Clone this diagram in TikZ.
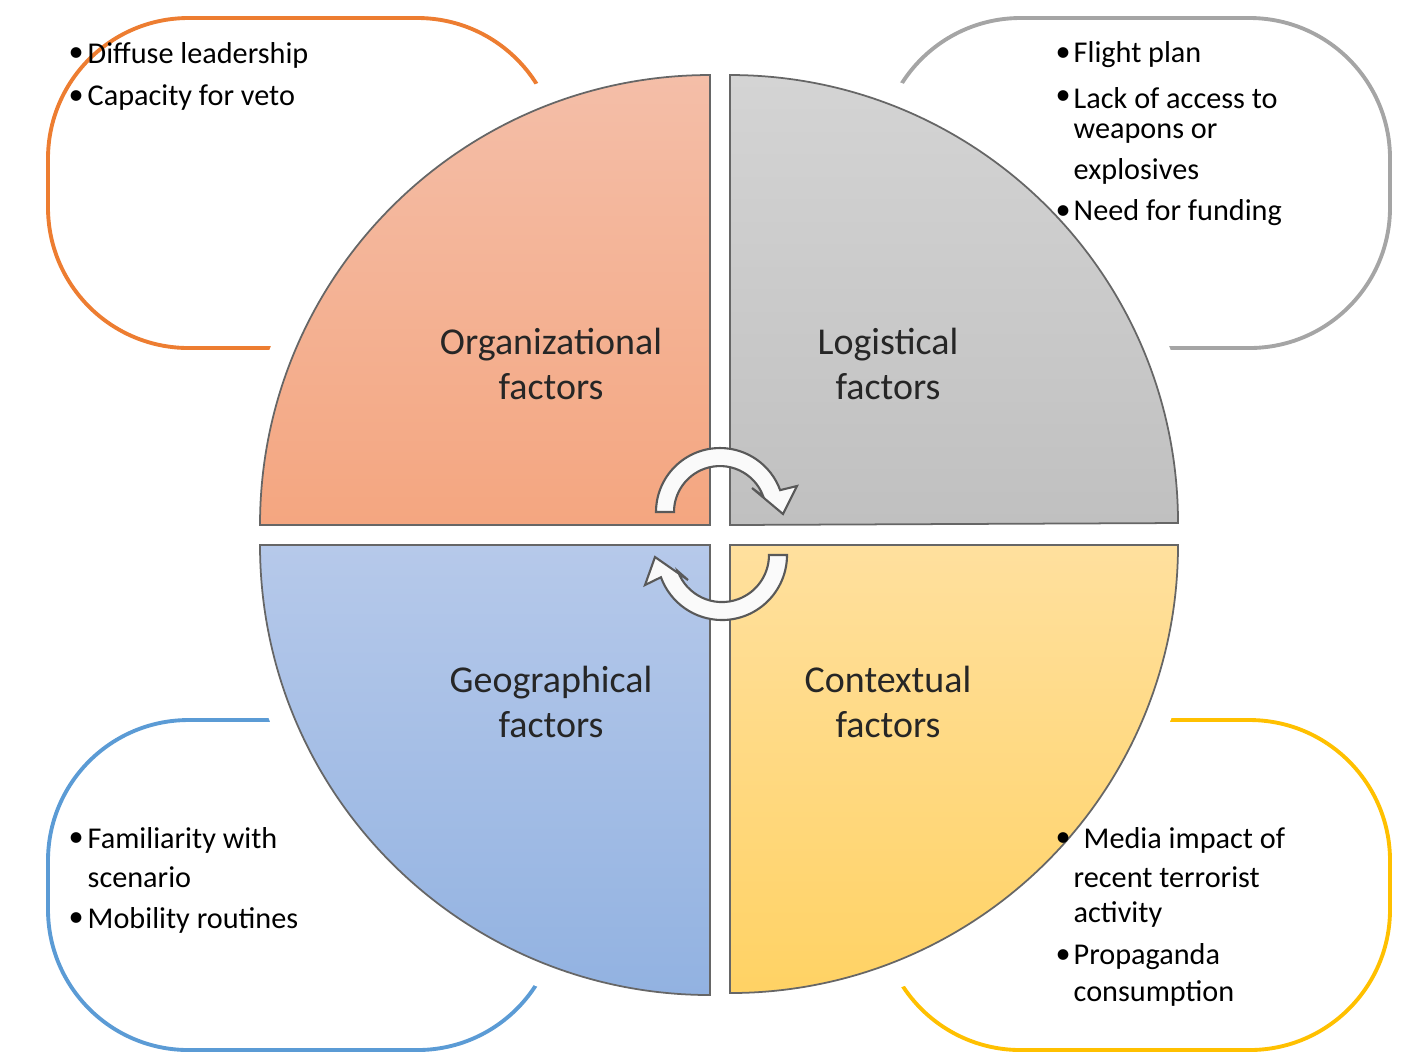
\documentclass[tikz,border=0pt]{standalone}
\usepackage{fontspec}
\setmainfont{Carlito}
\begin{document}
\begin{tikzpicture}[x=0.1mm,y=0.1mm,
  box/.style={rounded corners=40, line width=1.1pt},
  quad/.style={draw=gray!80!black, line width=0.5pt},
  btxt/.style={anchor=west, inner sep=0, font=\fontsize{8.6}{10.5}\selectfont},
  bul/.style={anchor=west, inner sep=0, font=\fontsize{8.6}{10.5}\selectfont},
  lab/.style={align=center, font=\fontsize{10.8}{13}\selectfont, text=black!85},
  carr/.style={fill=white!96!gray, draw=gray!70!black, line width=0.6pt}]
\useasboundingbox (0,0) rectangle (1417,-1060);
\definecolor{corg}{HTML}{ED7D31}\definecolor{cgry}{HTML}{A5A5A5}
\definecolor{cblu}{HTML}{5B9BD5}\definecolor{cgld}{HTML}{FFC000}
% boxes
\draw[box,corg] (48,-18) rectangle (558,-348);
\draw[box,cgry] (880,-18) rectangle (1390,-348);
\draw[box,cblu] (48,-720) rectangle (558,-1050);
\draw[box,cgld] (880,-720) rectangle (1390,-1050);
\fill[white] (720,-535) circle (487);
% quadrants
\shade[quad,top color={rgb,255:red,244;green,190;blue,168},bottom color={rgb,255:red,244;green,166;blue,128}]
  (710,-525) -- (260,-525) arc[start angle=180,end angle=90,radius=450] -- cycle;
\shade[quad,top color={rgb,255:red,212;green,212;blue,212},bottom color={rgb,255:red,192;green,192;blue,192}]
  (730,-525) -- (730,-75) arc[start angle=90,end angle=0,radius=448] -- cycle;
\shade[quad,top color={rgb,255:red,182;green,201;blue,234},bottom color={rgb,255:red,146;green,178;blue,225}]
  (710,-545) -- (260,-545) arc[start angle=180,end angle=270,radius=450] -- cycle;
\shade[quad,top color={rgb,255:red,255;green,224;blue,158},bottom color={rgb,255:red,255;green,210;blue,100}]
  (730,-545) -- (1178,-545) arc[start angle=0,end angle=-90,radius=448] -- cycle;
% circular arrows
\draw[carr] (656,-512) arc[start angle=180,end angle=20,radius=64] -- (797,-486) -- (783,-514) -- (752,-488) -- (763.2,-496.3) arc[start angle=20,end angle=180,radius=46] -- cycle;
\draw[carr] (787,-555) arc[start angle=0,end angle=-160,radius=65] -- (645,-585) -- (655,-557) -- (688,-580) -- (677.8,-571.1) arc[start angle=-160,end angle=0,radius=47] -- cycle;
% labels
\node[lab] (lo) at (551,-364) {Organizational\\factors};
\node[lab] (ll) at (888,-364) {Logistical\\factors};
\node[lab] (lg) at (551,-702) {Geographical\\factors};
\node[lab] (lc) at (888,-702) {Contextual\\factors};
% TL bullets
\node[bul] (b1) at (68,-55) {•};\node[btxt] (t1) at (87,-55) {Diffuse leadership};
\node[bul] (b2) at (68,-98) {•};\node[btxt] (t2) at (87,-98) {Capacity for veto};
% TR bullets
\node[bul] (b3) at (1055,-55) {•};\node[btxt] (t3) at (1073,-55) {Flight plan};
\node[bul] (b4) at (1055,-98) {•};\node[btxt] (t4) at (1073,-98) {Lack of access to};
\node[btxt] (t4b) at (1073,-134) {weapons or};
\node[btxt] (t4c) at (1073,-171) {explosives};
\node[bul] (b5) at (1055,-213) {•};\node[btxt] (t5) at (1073,-213) {Need for funding};
% BL bullets
\node[bul] (b6) at (68,-840) {•};\node[btxt] (t6) at (87,-840) {Familiarity with};
\node[btxt] (t6b) at (87,-877) {scenario};
\node[bul] (b7) at (68,-920) {•};\node[btxt] (t7) at (87,-920) {Mobility routines};
% BR bullets
\node[bul] (b8) at (1055,-840) {•};\node[btxt] (t8) at (1083,-840) {Media impact of};
\node[btxt] (t8b) at (1073,-877) {recent terrorist};
\node[btxt] (t8c) at (1073,-914) {activity};
\node[bul] (b9) at (1055,-957) {•};\node[btxt] (t9) at (1073,-957) {Propaganda};
\node[btxt] (t9b) at (1073,-993) {consumption};
\end{tikzpicture}
\end{document}
